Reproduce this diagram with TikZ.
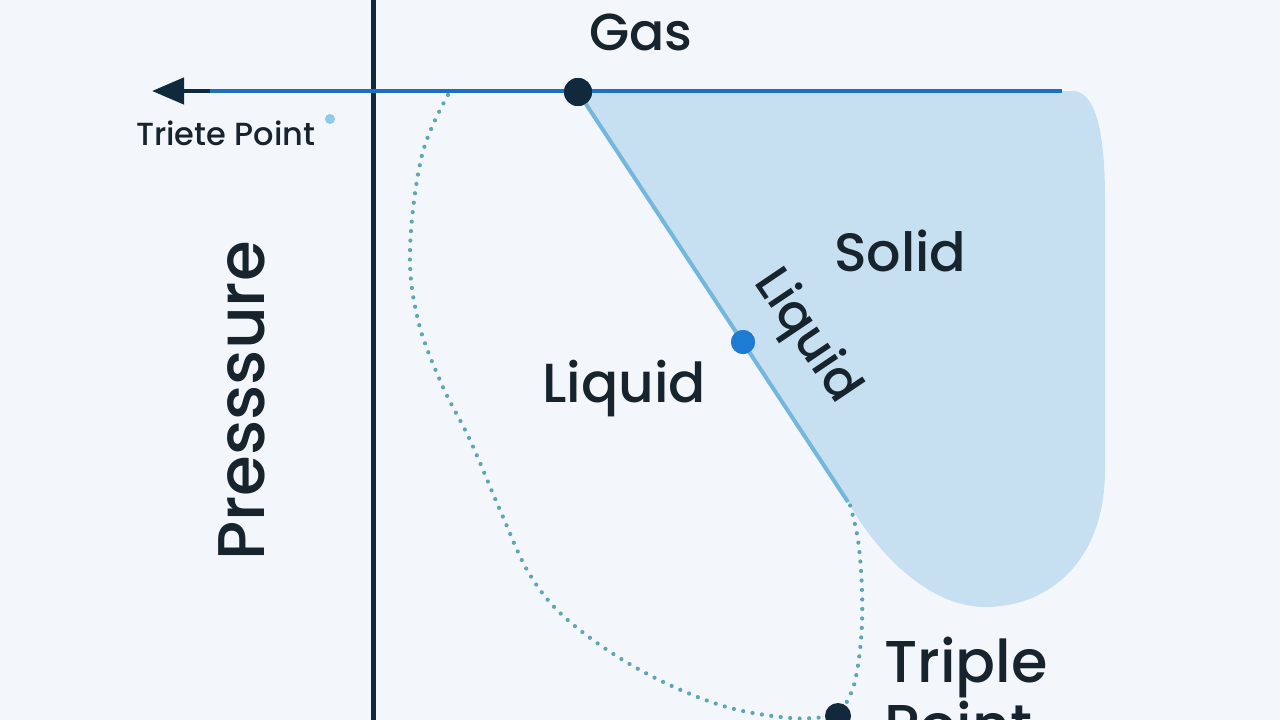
\documentclass[tikz,border=0pt]{standalone}
\usepackage{fontspec}
\setmainfont{Poppins Medium}
\usetikzlibrary{arrows.meta}
\definecolor{bg}{HTML}{F3F7FB}
\definecolor{navy}{HTML}{11293C}
\definecolor{lineblue}{HTML}{1C6FC2}
\definecolor{fillblue}{HTML}{C6DFF1}
\definecolor{edgeblue}{HTML}{74B7DD}
\definecolor{dotblue}{HTML}{1E7BD4}
\definecolor{teal}{HTML}{5FA6B2}
\definecolor{lightdot}{HTML}{8DCBEA}
\definecolor{ink}{HTML}{17232D}
\tikzset{
  lbl/.style={text=ink, inner sep=0pt},
  dotnode/.style={circle, inner sep=0pt, minimum size=#1},
  dotted curve/.style={teal, line width=4.2pt, line cap=round, dash pattern=on 0pt off 9.5pt},
}
\begin{document}
\begin{tikzpicture}[x=1pt,y=-1pt]
\useasboundingbox (0,0) rectangle (1280,720);
\fill[bg] (0,0) rectangle (1280,720);
% solid region
\fill[fillblue] (578,92) -- (1075,91) .. controls (1098,95) and (1105,140) .. (1105,200)
  -- (1105,470) .. controls (1105,560) and (1050,607) .. (985,607)
  .. controls (930,607) and (878,555) .. (848,502) -- cycle;
% dotted curve
\draw[dotted curve] plot[smooth, tension=0.6] coordinates {(448,95) (422,155) (410,250) (418,320) (442,385) (470,440) (500,510) (530,575) (570,622) (640,670) (720,705) (790,718) (832,716)};
\draw[dotted curve] plot[smooth, tension=0.6] coordinates {(842,710) (854,685) (861,640) (862,590) (858,540) (850,505)};
% axis
\draw[navy, line width=5pt] (373,0) -- (373,720);
% nodes
\node[dotnode=28pt, fill=navy] (gasdot) at (578,92) {};
\node[dotnode=24pt, fill=dotblue] (bluedot) at (743,342) {};
\node[dotnode=26pt, fill=navy] (tripledot) at (838,716) {};
\node[dotnode=10pt, fill=lightdot] (smalldot) at (330,119) {};
\coordinate (tip) at (152,91);
\coordinate (shaft) at (210,91);
\coordinate (lineend) at (1062,91);
\coordinate (edgeend) at (848,502);
% liquid-solid edge
\draw[edgeblue, line width=4pt] (gasdot.center) -- (edgeend);
% horizontal line
\draw[lineblue, line width=4.5pt] (shaft) -- (lineend);
\draw[navy, line width=4.5pt, -{Triangle[length=32pt,width=26pt]}] (shaft) -- (tip);
\node[dotnode=28pt, fill=navy] at (gasdot) {};
\node[dotnode=24pt, fill=dotblue] at (bluedot) {};
% labels
\node[lbl, font=\fontsize{52}{56}\selectfont, anchor=base west] (gas) at (589,50) {Gas};
\node[lbl, font=\fontsize{54}{58}\selectfont, anchor=base west] (solid) at (834,271) {Solid};
\node[lbl, font=\fontsize{55}{58}\selectfont, anchor=base west] (liquid) at (542,402) {Liquid};
\node[lbl, font=\fontsize{50}{54}\selectfont, rotate=-56, anchor=center] (liqline) at (806,337) {Liquid};
\node[lbl, font=\fontsize{59}{62}\selectfont, anchor=base west] (triple) at (884,682) {Triple};
\node[lbl, font=\fontsize{59}{62}\selectfont, anchor=base west] (point) at (884,746) {Point};
\node[lbl, font=\fontsize{66}{70}\selectfont, rotate=90, anchor=base] (pressure) at (264,401) {Presssure};
\node[lbl, font=\fontsize{32}{34}\selectfont, anchor=base west] (triete) at (136,145) {Triete Point};
\end{tikzpicture}
\end{document}
